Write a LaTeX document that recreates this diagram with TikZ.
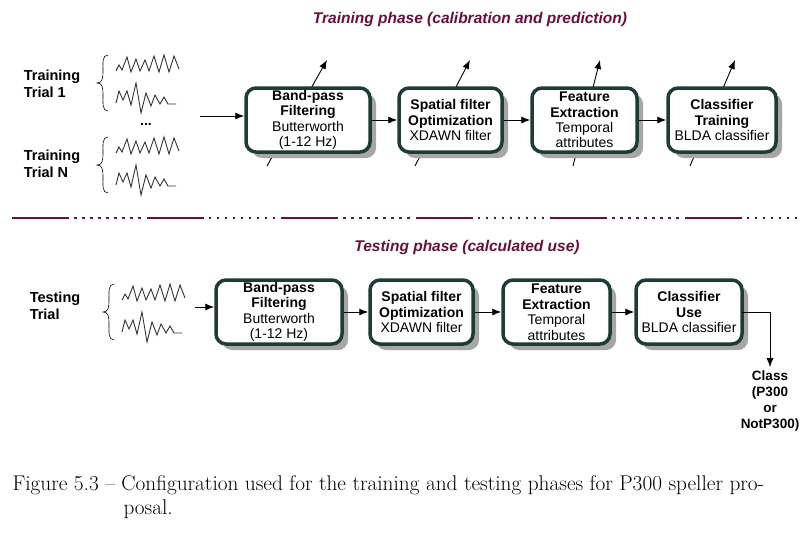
\documentclass[tikz,border=0pt]{standalone}
\usepackage{fontspec}
\newfontfamily\sans{Liberation Sans}
\usetikzlibrary{arrows.meta}
\definecolor{maroon}{HTML}{6B0F3A}
\definecolor{boxc}{HTML}{1F3B38}
\begin{document}
\begin{tikzpicture}[x=1pt,y=-1pt,
 blk/.style={draw=boxc,line width=3.5pt,rounded corners=10pt,fill=white,align=center,font=\sans\fontsize{14}{15.5}\selectfont,inner sep=0pt},
 shd/.style={fill=gray!70,rounded corners=10pt},
 lbl/.style={font=\sans\bfseries\fontsize{14.5}{17}\selectfont,align=left},
 ttl/.style={font=\sans\bfseries\itshape\fontsize{15.5}{18}\selectfont,text=maroon},
 arr/.style={-{Latex[length=9pt,width=7pt]},line width=0.9pt},
 wave/.style={line width=0.9pt,black!80}]
\useasboundingbox (0,0) rectangle (803,546);
\node[ttl] (t1) at (470,19) {Training phase (calibration and prediction)};
\node[ttl] (t2) at (467,247) {Testing phase (calculated use)};
\draw[maroon,line width=2.8pt,dash pattern=on 57pt off 5pt on 2.5pt off 5.5pt on 2.5pt off 5.5pt on 2.5pt off 5.5pt on 2.5pt off 5.5pt on 2.5pt off 5.5pt on 2.5pt off 5.5pt on 2.5pt off 5.5pt on 2.5pt off 5.5pt on 2.5pt off 6pt] (12,218) -- (800,218);
% waves
\newcommand{\wavepair}[2]{%
 \draw[line width=0.6pt] (#1+6,#2-28) .. controls (#1,#2-28) and (#1+1,#2-20) .. (#1+1,#2-11) .. controls (#1+1,#2-4) and (#1,#2) .. (#1-5,#2) .. controls (#1,#2) and (#1+1,#2+4) .. (#1+1,#2+11) .. controls (#1+1,#2+20) and (#1,#2+28) .. (#1+6,#2+28);
 \draw[wave] (#1+14,#2-12) -- ++(3,-6) -- ++(3,5) -- ++(5,-13) -- ++(4,15) -- ++(5,-13) -- ++(4,12) -- ++(5,-11) -- ++(4,11) -- ++(5,-15) -- ++(5,16) -- ++(5,-17) -- ++(5,17) -- ++(5,-16) -- ++(5,13);
 \draw[wave] (#1+14,#2+20) -- ++(3,-12) -- ++(4,9) -- ++(4,-9) -- ++(4,14) -- ++(5,-22) -- ++(5,30) -- ++(5,-20) -- ++(5,13) -- ++(4,-11) -- ++(5,9) -- ++(4,-7) -- ++(4,7) -- ++(8,0);}
\wavepair{102}{83}
\wavepair{102}{165}
\wavepair{108}{312}
\node[lbl] (tr1) at (52,84) {Training\\Trial 1};
\node[lbl] (trn) at (52,164) {Training\\Trial N};
\node[font=\sans\bfseries\fontsize{14}{16}\selectfont] (dots) at (146,124) {...};
\node[lbl] (te) at (55,306) {Testing\\Trial};
% boxes
\newcommand{\blkbox}[6]{%
 \fill[shd] (#2+6,#3+6) rectangle (#4+6,#5+6);
 \node[blk,minimum width=#4-#2,minimum height=#5-#3] (#1) at ({(#2+#4)/2},{(#3+#5)/2}) {#6};}
\foreach \a/\b in {267/327,415/470,573/600,690/735}{
 \draw[arr] (\a,166) -- (\b,60);}
\blkbox{b1}{246}{88}{370}{152}{\textbf{Band-pass}\\\textbf{Filtering}\\Butterworth\\(1-12 Hz)}
\blkbox{b2}{399}{88}{502}{152}{\textbf{Spatial filter}\\\textbf{Optimization}\\XDAWN filter}
\blkbox{b3}{532}{88}{637}{152}{\textbf{Feature}\\\textbf{Extraction}\\Temporal\\attributes}
\blkbox{b4}{668}{88}{776}{152}{\textbf{Classifier}\\\textbf{Training}\\BLDA classifier}
\coordinate (in1) at (200,116);
\draw[arr] (in1) -- (b1.west|-in1);
\draw[arr] (b1) -- (b2);
\draw[arr] (b2) -- (b3);
\draw[arr] (b3) -- (b4);
\blkbox{c1}{216}{280}{342}{344}{\textbf{Band-pass}\\\textbf{Filtering}\\Butterworth\\(1-12 Hz)}
\blkbox{c2}{370}{280}{473}{344}{\textbf{Spatial filter}\\\textbf{Optimization}\\XDAWN filter}
\blkbox{c3}{503}{280}{610}{344}{\textbf{Feature}\\\textbf{Extraction}\\Temporal\\attributes}
\blkbox{c4}{636}{280}{742}{344}{\textbf{Classifier}\\\textbf{Use}\\BLDA classifier}
\coordinate (in2) at (195,307);
\draw[arr] (in2) -- (c1.west|-in2);
\draw[arr] (c1) -- (c2);
\draw[arr] (c2) -- (c3);
\draw[arr] (c3) -- (c4);
\node[lbl,align=center,font=\sans\bfseries\fontsize{13.5}{16}\selectfont] (cls) at (770,401) {Class\\(P300\\or\\NotP300)};
\draw[arr] (742,312) -| (cls.north);
\node[anchor=west,font=\fontsize{21.3}{25}\selectfont] (cap1) at (9,485) {Figure 5.3 -- Configuration used for the training and testing phases for P300 speller pro-};
\node[anchor=west,font=\fontsize{21.3}{25}\selectfont] (cap2) at (120,509) {posal.};
\end{tikzpicture}
\end{document}
